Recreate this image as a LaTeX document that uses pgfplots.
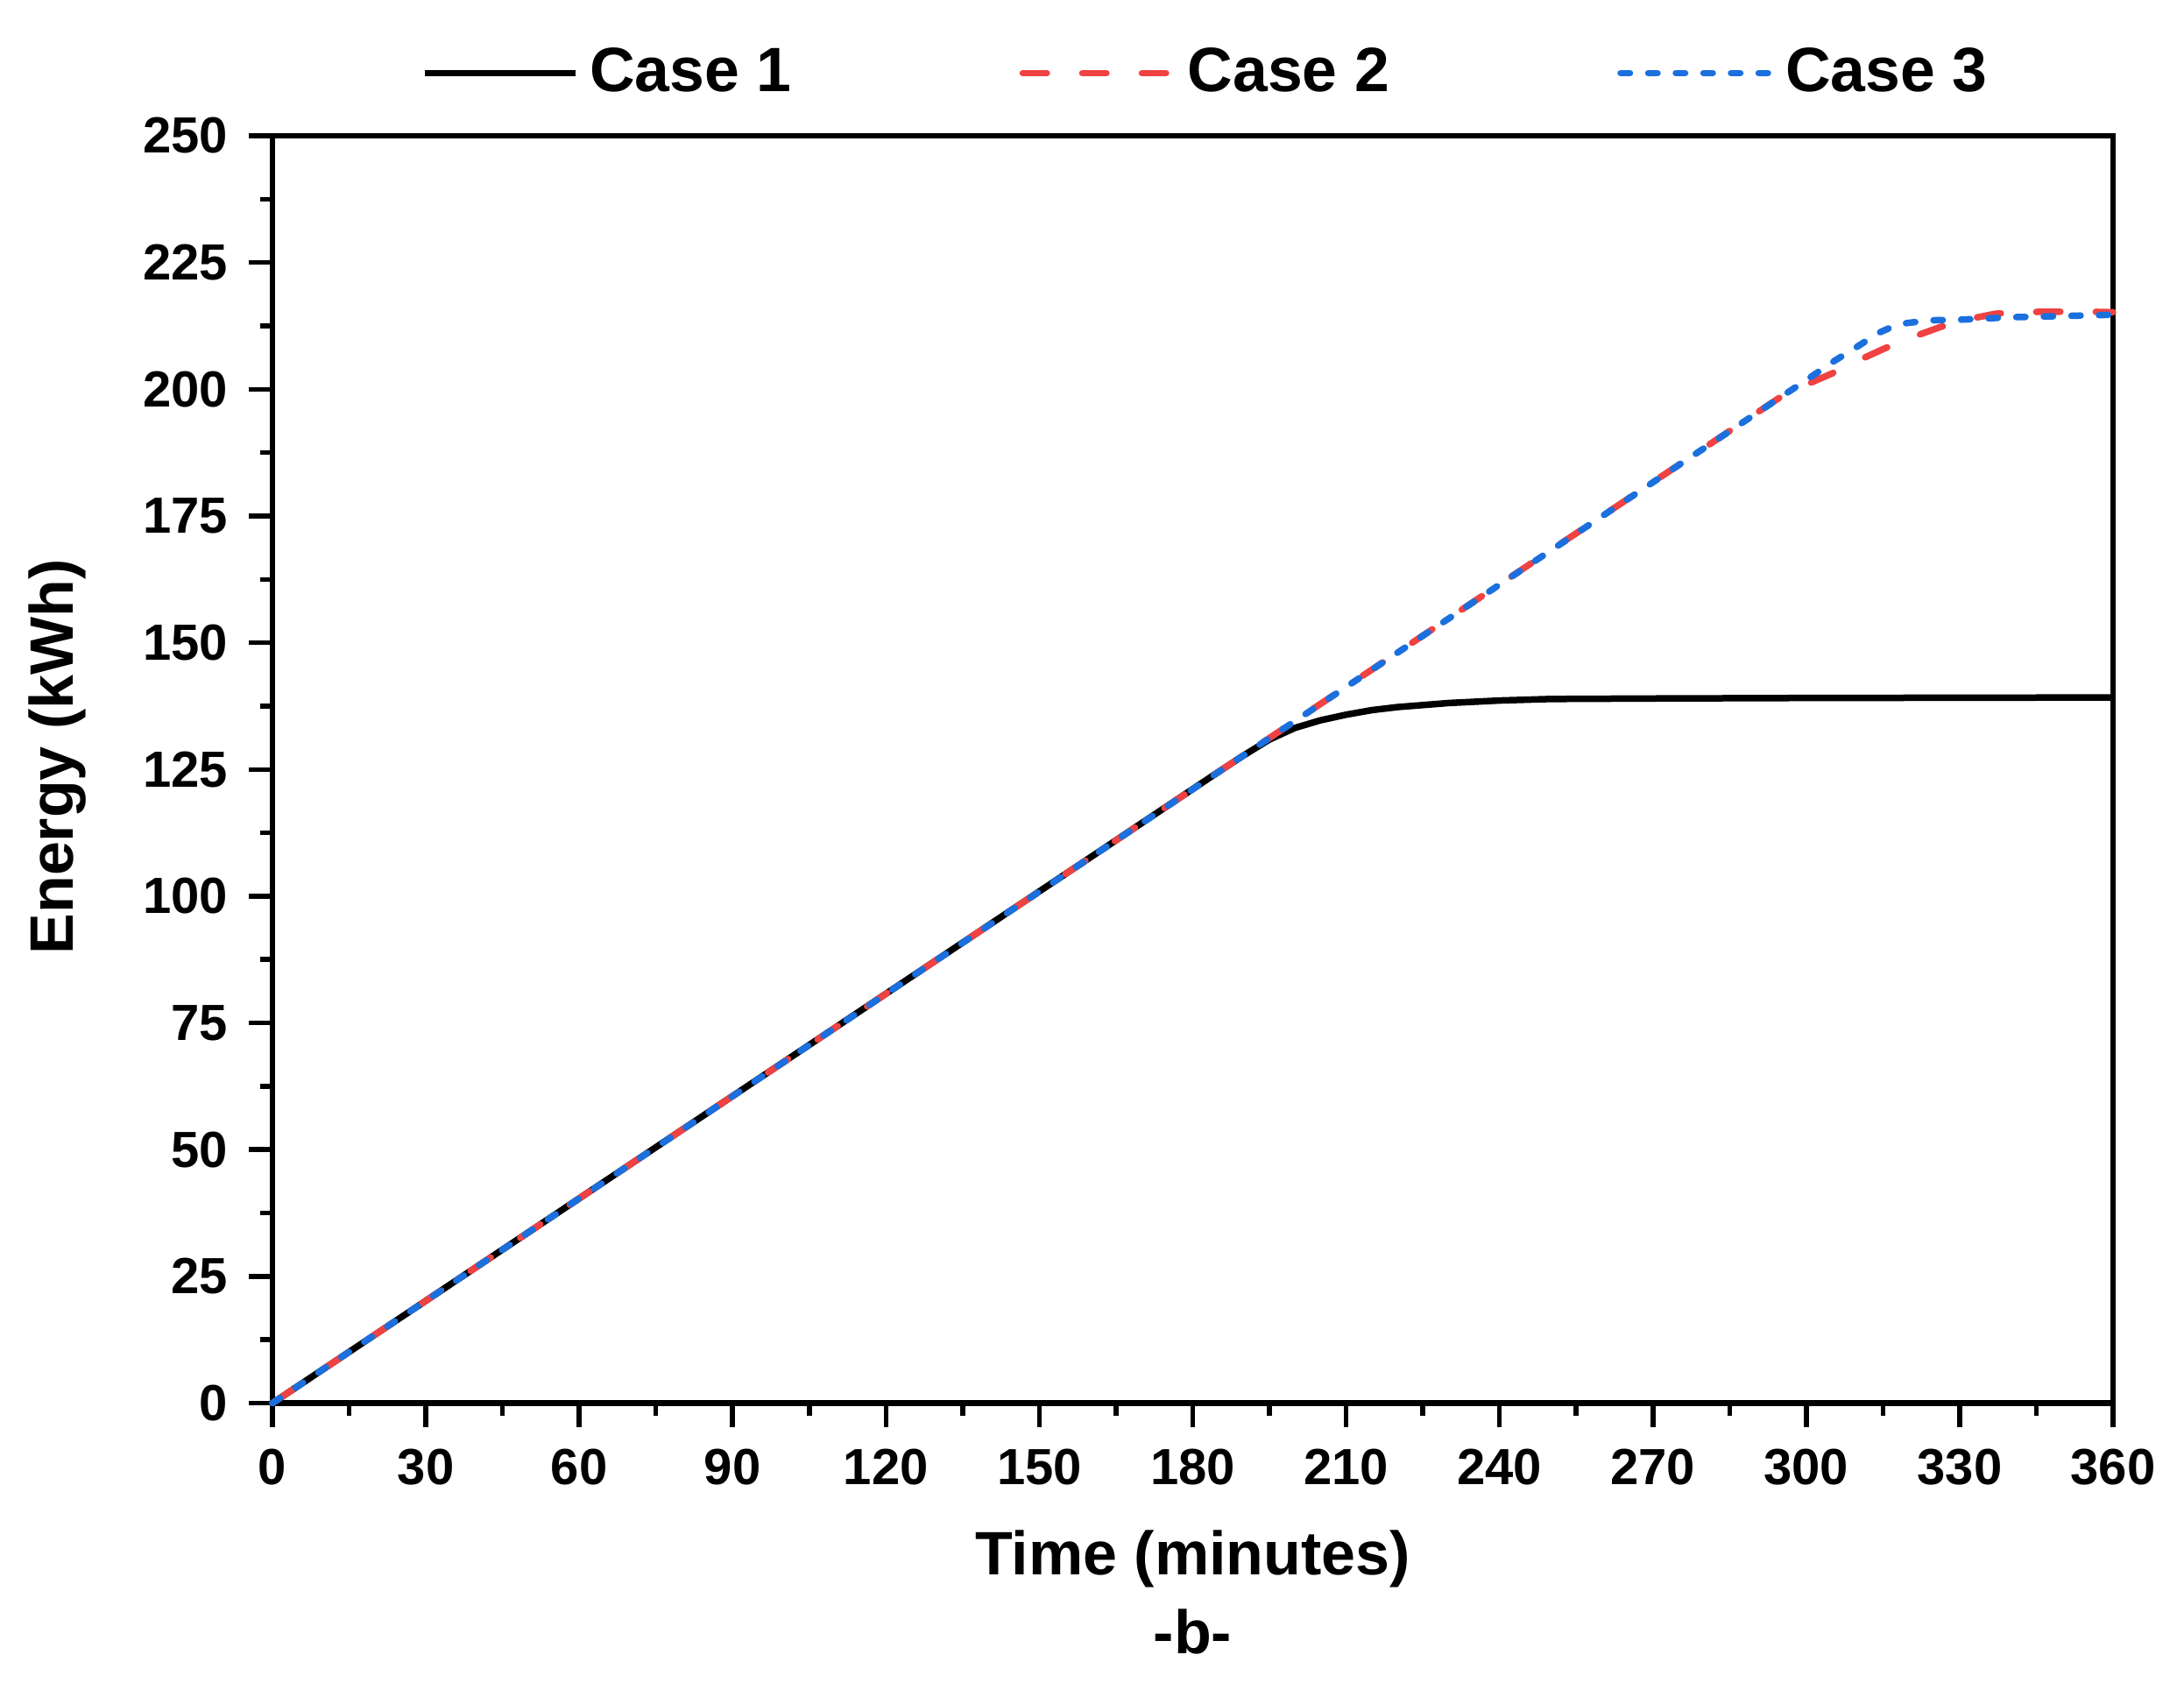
\documentclass[border=0pt]{standalone}
\usepackage{pgfplots}
\pgfplotsset{compat=1.18}
\usepackage{fontspec}
\setmainfont{Liberation Sans}
\definecolor{cred}{RGB}{240,66,66}
\definecolor{cblue}{RGB}{27,112,222}
\begin{document}
\begin{tikzpicture}
\begin{axis}[
  scale only axis,
  width=420.2pt, height=289.3pt,
  xmin=0, xmax=360, ymin=0, ymax=250,
  xtick={0,30,...,360}, ytick={0,25,...,250},
  minor x tick num=1, minor y tick num=1,
  tick pos=left, tick align=outside,
  major tick length=5.4pt, minor tick length=2.8pt,
  axis line style={line width=1.3pt},
  every tick/.style={line width=1.1pt, black},
  /pgf/number format/assume math mode=true,
  tick label style={font=\fontsize{11.6}{14}\selectfont\bfseries},
  yticklabel style={inner sep=0pt, anchor=east, xshift=-4.6pt},
  xticklabel style={inner sep=0pt, anchor=north, yshift=-4.8pt},
  xlabel={Time (minutes)}, ylabel={Energy (kWh)},
  label style={font=\fontsize{14}{17}\selectfont\bfseries},
  xlabel style={at={(axis description cs:0.5,-0.1355)}, anchor=base},
  ylabel style={at={(axis description cs:-0.1166,0.51)}, anchor=center, rotate=0},
  legend columns=3,
  legend style={at={(axis description cs:0.5,1)}, anchor=center, yshift=14.3pt, xshift=2.7pt,
    draw=none, fill=none, font=\fontsize{14.3}{17}\selectfont\bfseries,
    /tikz/every even column/.append style={column sep=52pt},
    /tikz/column sep=2.4pt,
    nodes={inner xsep=0pt}},
  legend image code/.code={\draw[#1] (0pt,0pt) -- (34.5pt,0pt);},
  clip=false,
]
\addplot[black, line width=1.5pt] coordinates {
(0,0) (185,124.5) (190,127.8) (195,130.9) (200,133.2) (205,134.7) (210,135.8)
(215,136.7) (220,137.3) (230,138.1) (240,138.6) (250,138.9) (270,139.0) (300,139.1) (360,139.2)};
\addlegendentry{Case 1}
\addplot[cred, line width=1.5pt, dash pattern=on 5.5pt off 8.1pt, line cap=round] coordinates {
(0,0) (295,198.5) (300,200.9) (305,203.1) (310,205.6) (315.2,208.0) (320,210.0) (326,212.2)
(331,213.7) (337,214.9) (342,215.2) (347,215.3) (355,215.3) (360,215.2)};
\addlegendentry{Case 2}
\addplot[cblue, line width=1.5pt, dash pattern=on 2.1pt off 4.2pt, line cap=round] coordinates {
(0,0) (297,199.8) (301,202.5) (305.5,205.6) (309.8,208.3) (314.1,211.1) (317,212.4)
(319.2,213.0) (324.2,213.6) (329.2,213.7) (334.3,213.9) (339.4,214.2) (344.5,214.3) (360,214.7)};
\addlegendentry{Case 3}
\node[font=\fontsize{14}{17}\selectfont\bfseries, anchor=base] at (axis description cs:0.5,-0.1977) {-b-};
\end{axis}
\path (-62.2pt,-63.8pt) rectangle (436.4pt,320.3pt);
\end{tikzpicture}
\end{document}
